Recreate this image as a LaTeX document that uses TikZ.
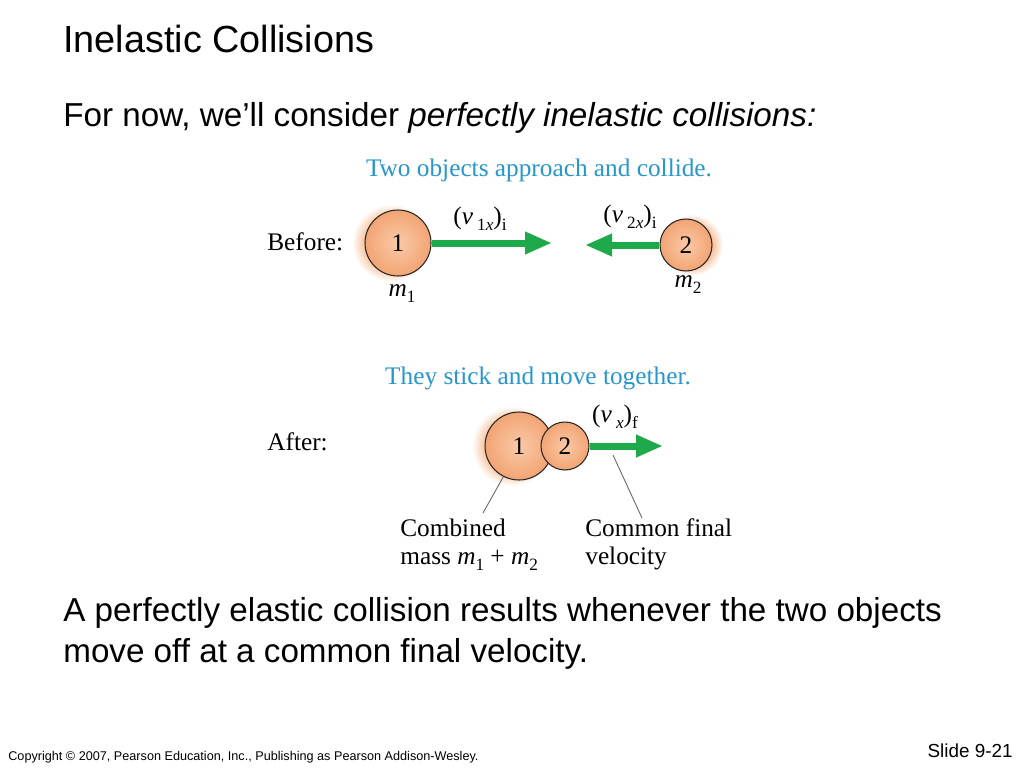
\documentclass[tikz,border=0pt]{standalone}
\usepackage{fontspec}
\usepackage{amsmath}
\setmainfont{Liberation Serif}
\setsansfont{Liberation Sans}
\usetikzlibrary{arrows.meta,positioning}

\definecolor{capblue}{RGB}{38,150,205}
\definecolor{arrowgreen}{RGB}{30,170,75}
\definecolor{ballin}{RGB}{250,202,168}
\definecolor{ballout}{RGB}{242,164,115}
\definecolor{glowc}{RGB}{248,196,160}
\pgfdeclareradialshading{ballfill}{\pgfpoint{0bp}{0bp}}{color(0bp)=(ballin); color(25bp)=(ballout); color(50bp)=(ballout)}
\pgfdeclareradialshading{glow}{\pgfpoint{0bp}{0bp}}{color(0bp)=(glowc); color(17bp)=(glowc); color(25bp)=(white); color(50bp)=(white)}
\newcommand{\lowsub}[1]{\raisebox{-0.55ex}{\fontsize{9.8}{10}\selectfont #1}}

\tikzset{
  ball/.style={circle, draw=black!85, line width=0.6pt, shading=ballfill, inner sep=0pt, font=\fontsize{14.4}{16}\selectfont},
  halo/.style={circle, shading=glow, inner sep=0pt},
  vel/.style={arrowgreen, line width=0.14cm, -{Triangle[length=0.54cm,width=0.42cm]}},
  lead/.style={draw=black!60, line width=0.5pt},
  bluecap/.style={capblue, font=\fontsize{14.4}{16}\selectfont, anchor=base},
  slidetext/.style={anchor=base west, font=\sffamily\fontsize{18.9}{22.8}\selectfont}
}

\begin{document}
\begin{tikzpicture}[x=0.02cm, y=-0.02cm, inner sep=0pt, font=\fontsize{14.4}{15.4}\selectfont]
  \useasboundingbox (0,0) rectangle (1023,767);

  \node[anchor=base west, font=\sffamily\fontsize{21.5}{26}\selectfont] (title) at (63,53) {Inelastic Collisions};
  \node[slidetext] (intro) at (63,126) {For now, we'll consider \textit{perfectly inelastic collisions:}};

  \node[bluecap] (cap1) at (539,176) {Two objects approach and collide.};
  \node[anchor=base west] (before) at (267,250) {Before:};
  \node[halo, minimum size=1.56cm] (halo1) at (391,243) {};
  \node[ball, minimum size=1.32cm] (m1) at (398,243) {1};
  \node[halo, minimum size=1.24cm] (halo2) at (692,245) {};
  \node[ball, minimum size=1.04cm] (m2) at (686,245) {2};
  \coordinate (tip1) at (552,243);
  \coordinate (tip2) at (585,245);
  \draw[vel] (m1.east) -- (tip1);
  \draw[vel] (m2.west) -- (tip2);
  \node[anchor=base] (v1) at (480,224) {(\textit{v}\,\lowsub{1\textit{x}})\lowsub{i}};
  \node[anchor=base] (v2) at (630,222) {(\textit{v}\,\lowsub{2\textit{x}})\lowsub{i}};
  \node[anchor=base] (lab1) at (402,296) {\textit{m}\lowsub{1}};
  \node[anchor=base] (lab2) at (688,287) {\textit{m}\lowsub{2}};

  \node[bluecap] (cap2) at (538,384) {They stick and move together.};
  \node[anchor=base west] (after) at (267,450) {After:};
  \node[halo, minimum size=1.6cm] (halo3) at (512,446) {};
  \node[ball, minimum size=1.36cm] (big) at (519,446) {1};
  \node[ball, minimum size=0.96cm] (small) at (565,446) {2};
  \coordinate (tip3) at (663,446);
  \draw[vel] (small.east) -- (tip3);
  \node[anchor=base] (vf) at (615,422) {(\textit{v}\,\lowsub{\textit{x}})\lowsub{f}};

  \node[anchor=base west, align=left] (comb) at (400,564) {Combined\\mass \textit{m}\lowsub{1} + \textit{m}\lowsub{2}};
  \node[anchor=base west, align=left] (common) at (585,564) {Common final\\velocity};
  \coordinate (combtop) at (483,513);
  \coordinate (velfoot) at (613,455);
  \coordinate (commontop) at (642,518);
  \draw[lead] (big.243) -- (combtop);
  \draw[lead] (velfoot) -- (commontop);

  \node[slidetext, align=left] (summary) at (63,662) {A perfectly elastic collision results whenever the two objects\\move off at a common final velocity.};

  \node[anchor=base west, font=\sffamily\fontsize{7.2}{9}\selectfont] (copy) at (8,760) {Copyright \textcopyright{} 2007, Pearson Education, Inc., Publishing as Pearson Addison-Wesley.};
  \node[anchor=base east, font=\sffamily\fontsize{10.75}{13}\selectfont] (slide) at (1013,757) {Slide 9-21};
\end{tikzpicture}
\end{document}
